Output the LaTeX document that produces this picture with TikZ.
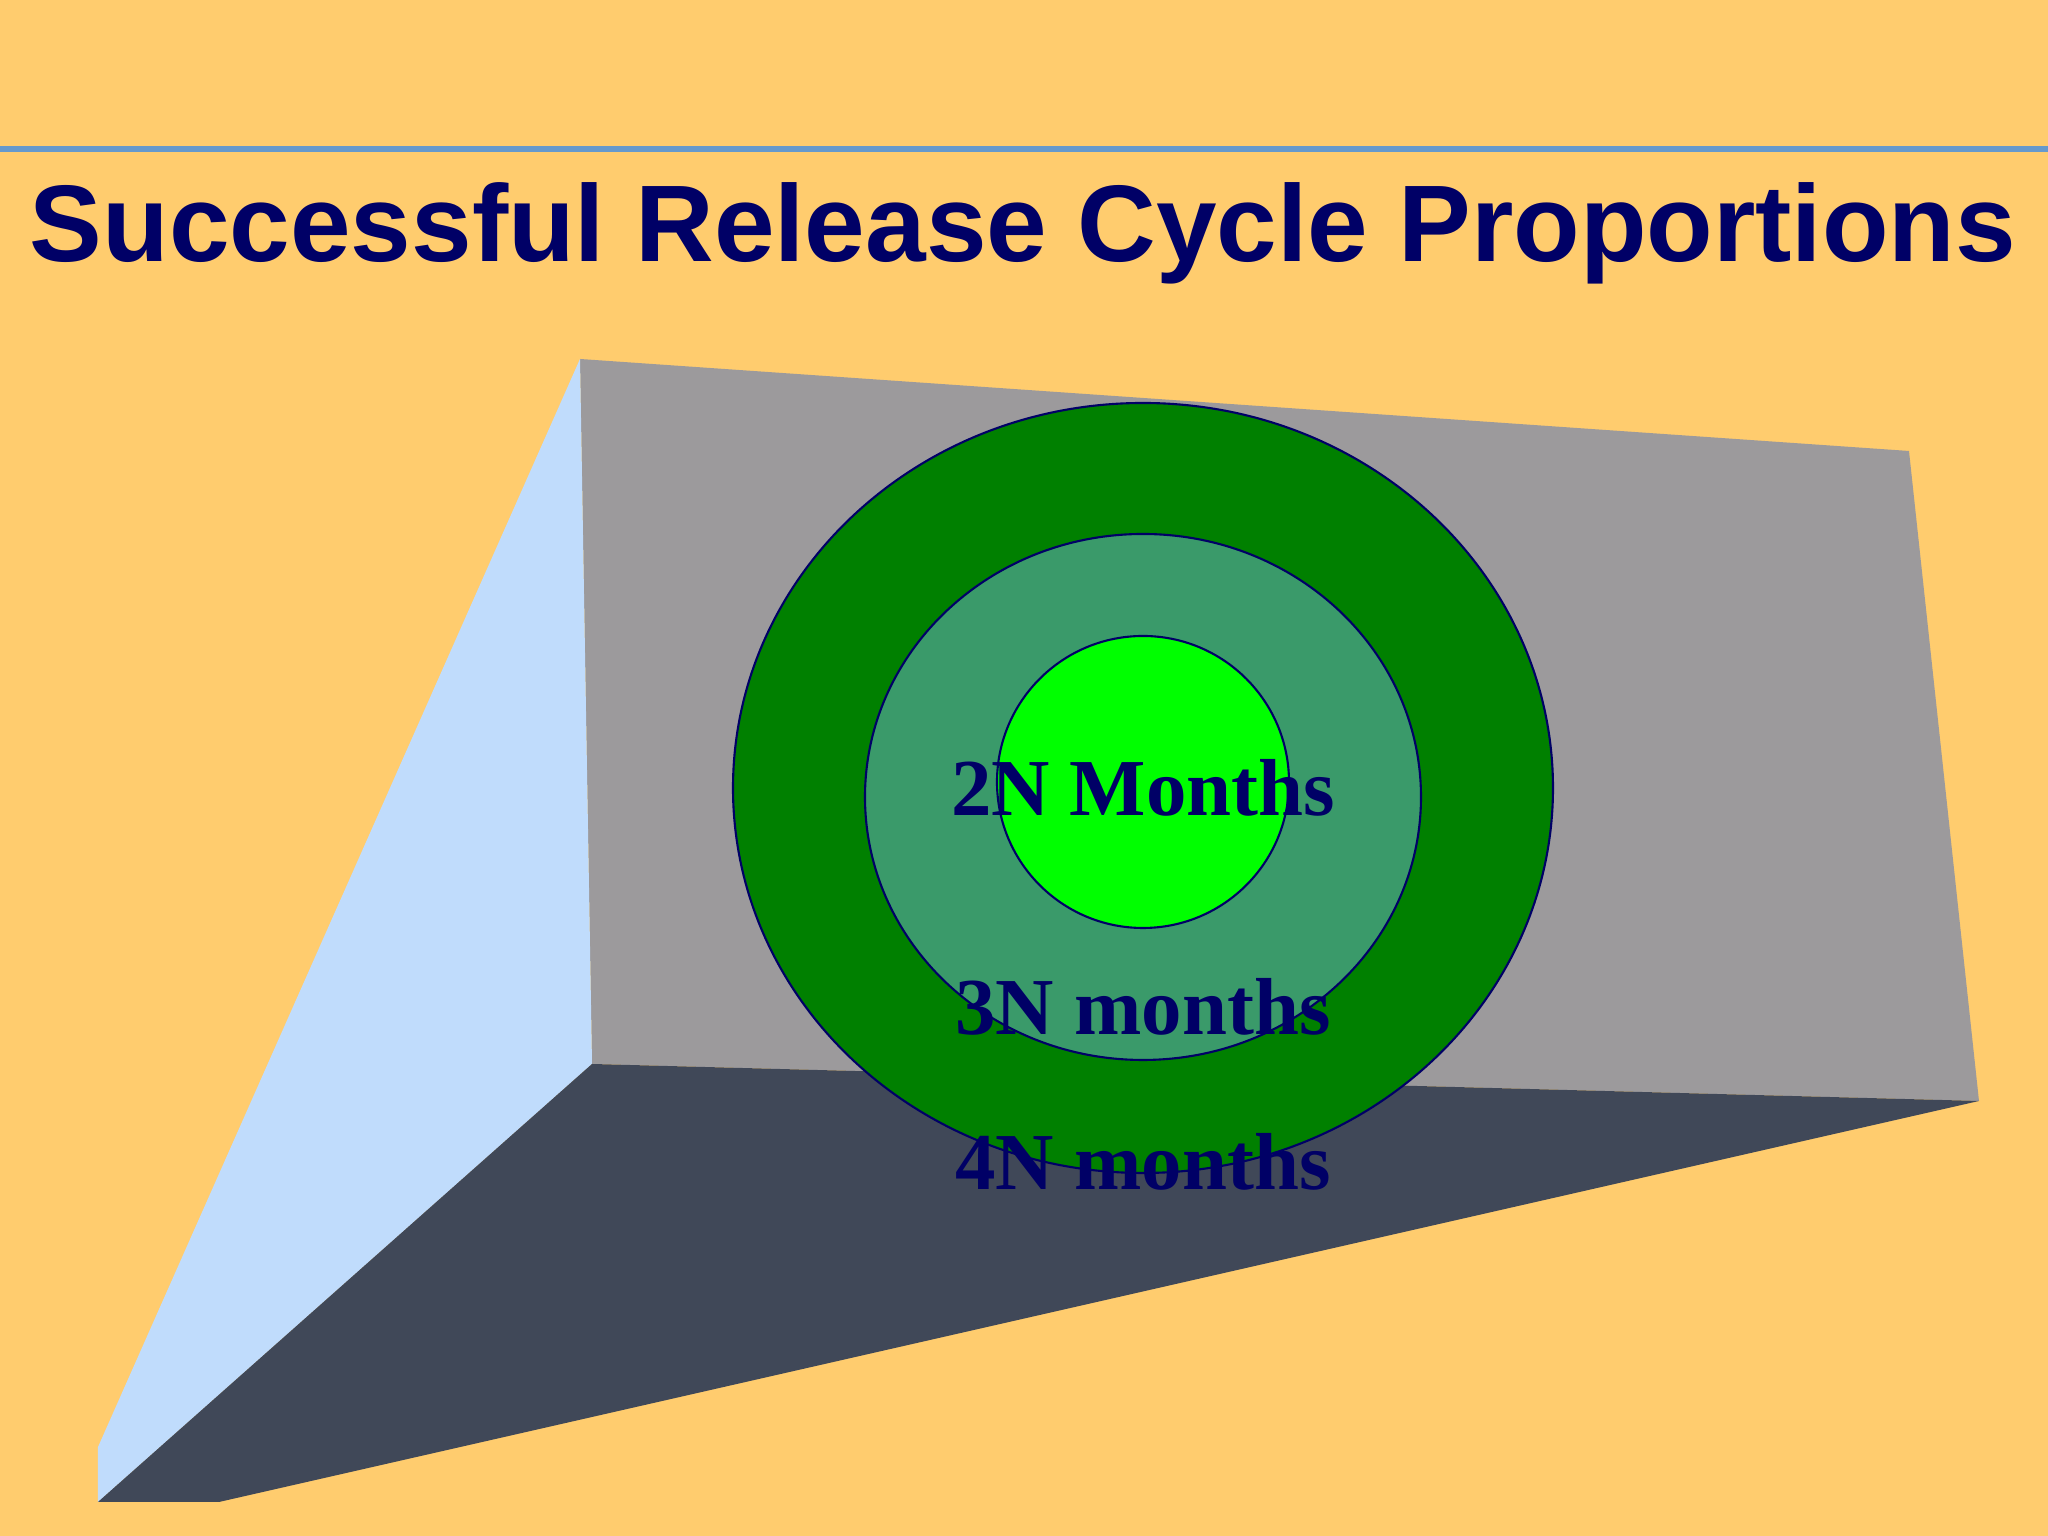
\documentclass[tikz,border=0pt]{standalone}
\usepackage{fontspec}
\setmainfont{Liberation Serif}
\setsansfont{Liberation Sans}
\usetikzlibrary{positioning}
\definecolor{slide}{HTML}{FFCC6E}
\definecolor{rule}{HTML}{6699CC}
\definecolor{navy}{HTML}{000066}
\definecolor{backwall}{HTML}{9C9A9C}
\definecolor{sidewall}{HTML}{C0DCFC}
\definecolor{floorc}{HTML}{404858}
\definecolor{ringouter}{HTML}{008000}
\definecolor{ringmid}{HTML}{3A9A6A}
\definecolor{ringinner}{HTML}{00FF00}
\begin{document}
\begin{tikzpicture}
	[ring/.style = {draw = navy, line width = 0.6pt},
	 months/.style = {text = navy, font = \fontsize{23}{26}\selectfont\bfseries}]
\fill[slide] (0,0) rectangle (20.48,15.36);
\useasboundingbox (0,0) rectangle (20.48,15.36);
\fill[rule] (0,13.84) rectangle (20.48,13.90);
\node[text = navy, font = \sffamily\bfseries\fontsize{31}{36}\selectfont] (title) at (10.23,13.03) {Successful Release Cycle Proportions};
% room
\fill[backwall] (5.80,11.77) -- (19.09,10.85) -- (19.79,4.35) -- (5.92,4.72) -- cycle;
\fill[sidewall] (5.80,11.77) -- (5.92,4.72) -- (0.98,0.34) -- (0.98,0.89) -- cycle;
\fill[floorc] (5.92,4.72) -- (19.79,4.35) -- (2.19,0.34) -- (0.98,0.34) -- cycle;
% rings
\draw[ring, fill = ringouter] (11.43,7.48) ellipse [x radius = 4.10, y radius = 3.85];
\draw[ring, fill = ringmid] (11.43,7.39) ellipse [x radius = 2.78, y radius = 2.63];
\draw[ring, fill = ringinner] (11.43,7.54) circle [radius = 1.46];
\node[months] (two) at (11.43,7.48) {2N Months};
\node[months] (three) at (11.43,5.29) {3N months};
\node[months] (four) at (11.43,3.74) {4N months};
\end{tikzpicture}
\end{document}
